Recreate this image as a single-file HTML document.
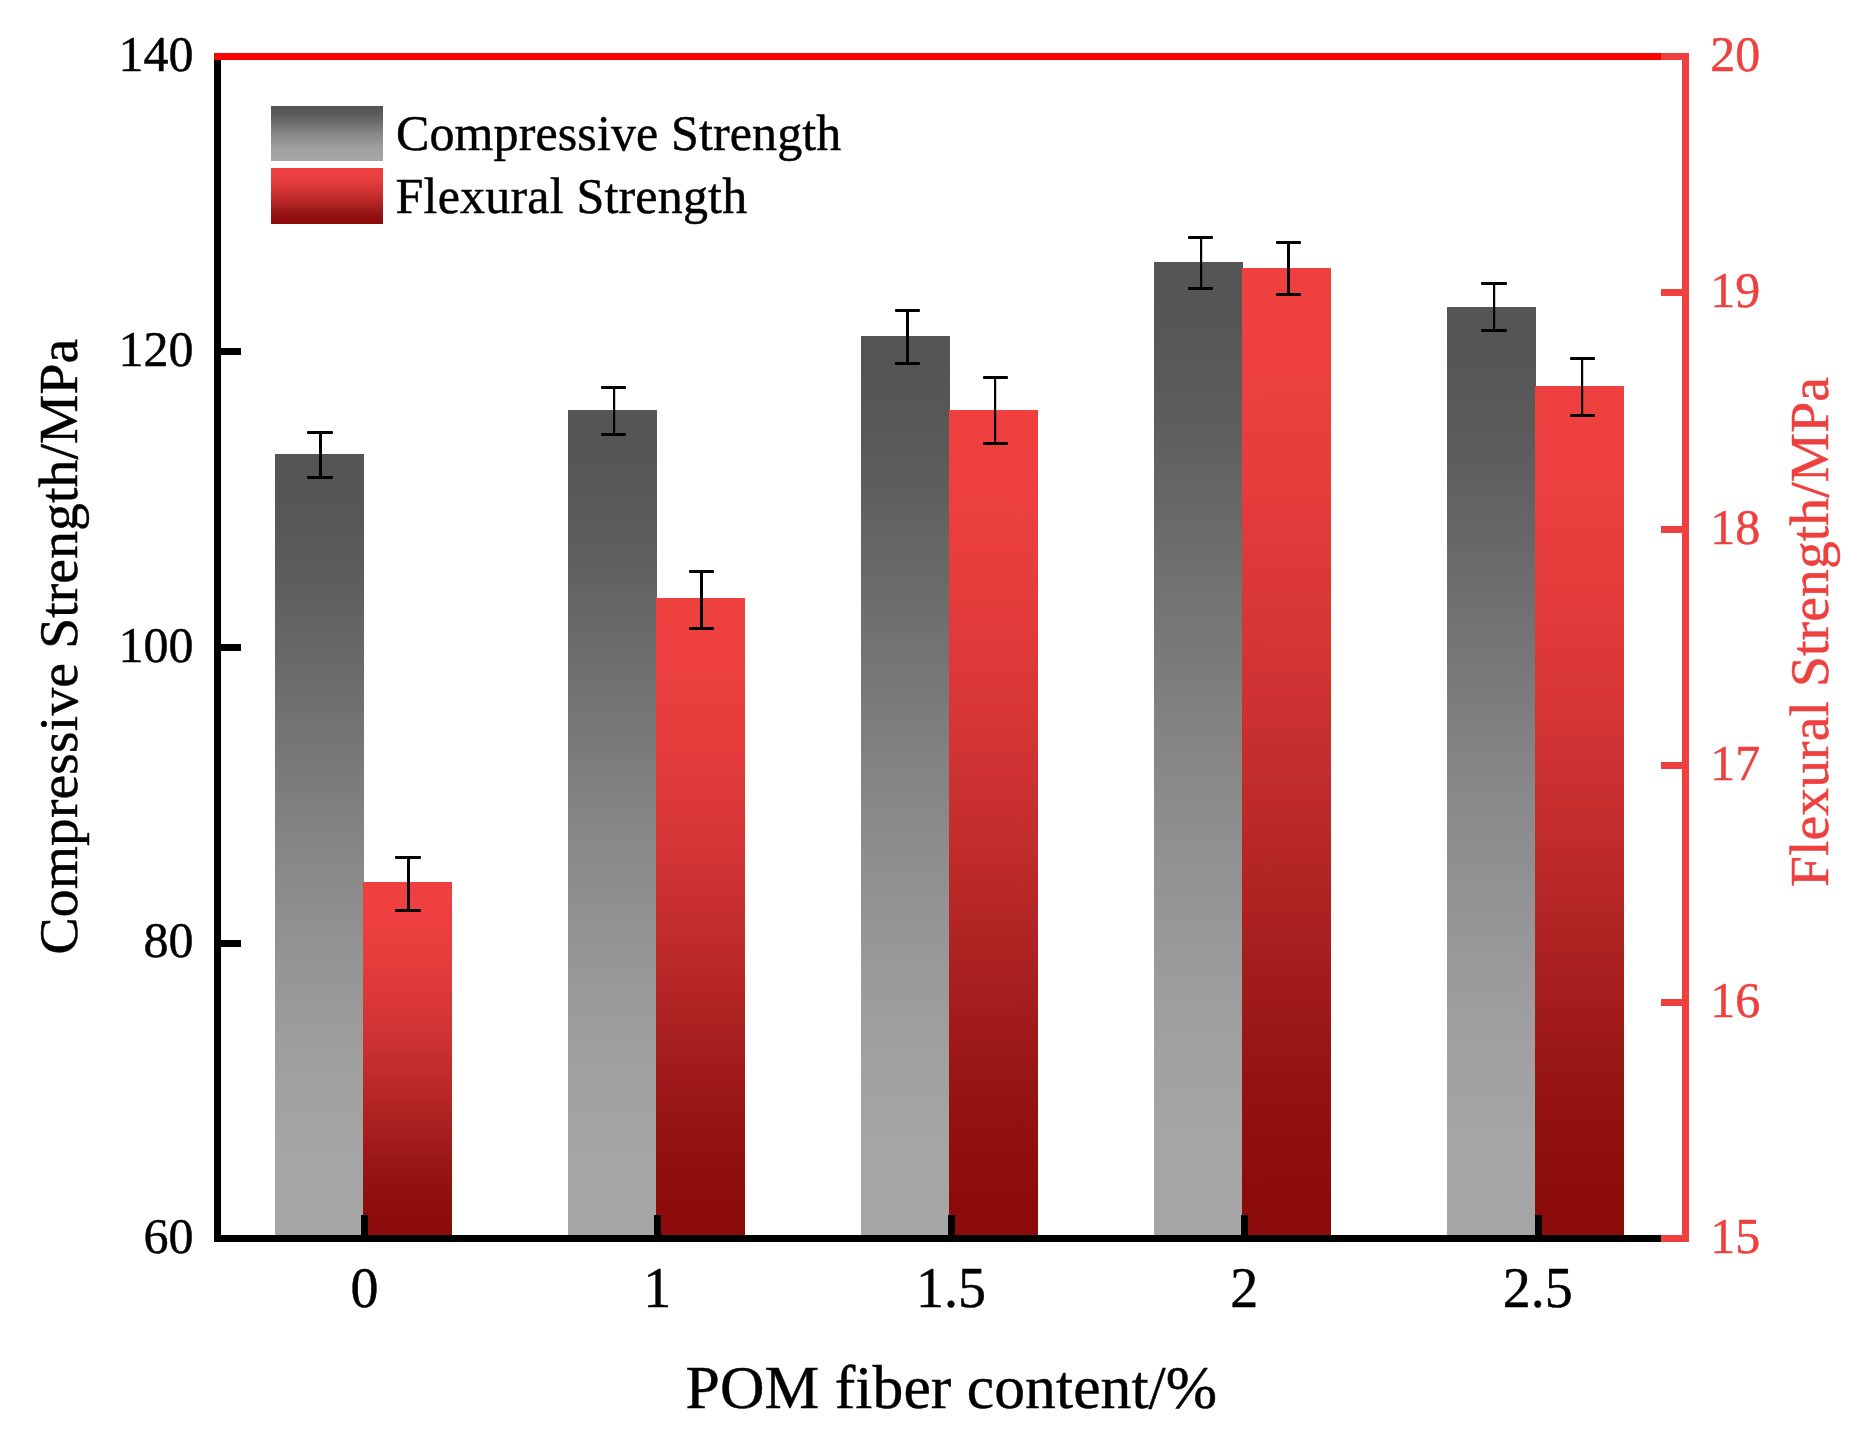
<!DOCTYPE html>
<html lang="en"><head><meta charset="utf-8"><title>POM fiber content chart</title>
<style>html,body{margin:0;padding:0;background:#fff}body{width:1875px;height:1441px;overflow:hidden}svg{display:block}text{font-family:"Liberation Serif","Times New Roman",serif;stroke-width:.45px;stroke-linejoin:round}text[fill="#000"],g[fill="#000"] text{stroke:#000}.r,.r text{stroke:#ef4040}</style></head><body>
<svg width="1875" height="1441" viewBox="0 0 1875 1441">
<defs>
<linearGradient id="gg" x1="0" y1="0" x2="0" y2="1"><stop offset="0.0000" stop-color="#555555"/><stop offset="0.0312" stop-color="#555555"/><stop offset="0.0625" stop-color="#565656"/><stop offset="0.0938" stop-color="#585858"/><stop offset="0.1250" stop-color="#5a5a5a"/><stop offset="0.1562" stop-color="#5d5d5d"/><stop offset="0.1875" stop-color="#606060"/><stop offset="0.2188" stop-color="#646464"/><stop offset="0.2500" stop-color="#676767"/><stop offset="0.2812" stop-color="#6b6b6b"/><stop offset="0.3125" stop-color="#6f6f6f"/><stop offset="0.3438" stop-color="#737373"/><stop offset="0.3750" stop-color="#767676"/><stop offset="0.4062" stop-color="#7a7a7a"/><stop offset="0.4375" stop-color="#7e7e7e"/><stop offset="0.4688" stop-color="#828282"/><stop offset="0.5000" stop-color="#858585"/><stop offset="0.5312" stop-color="#898989"/><stop offset="0.5625" stop-color="#8c8c8c"/><stop offset="0.5938" stop-color="#8f8f8f"/><stop offset="0.6250" stop-color="#929292"/><stop offset="0.6562" stop-color="#959595"/><stop offset="0.6875" stop-color="#989898"/><stop offset="0.7188" stop-color="#9a9a9a"/><stop offset="0.7500" stop-color="#9d9d9d"/><stop offset="0.7812" stop-color="#9f9f9f"/><stop offset="0.8125" stop-color="#a1a1a1"/><stop offset="0.8438" stop-color="#a2a2a2"/><stop offset="0.8750" stop-color="#a4a4a4"/><stop offset="0.9062" stop-color="#a5a5a5"/><stop offset="0.9375" stop-color="#a5a5a5"/><stop offset="0.9688" stop-color="#a6a6a6"/><stop offset="1.0000" stop-color="#a6a6a6"/></linearGradient>
<linearGradient id="rg" x1="0" y1="0" x2="0" y2="1"><stop offset="0.0000" stop-color="#ef4040"/><stop offset="0.0312" stop-color="#ef4040"/><stop offset="0.0625" stop-color="#ee4040"/><stop offset="0.0938" stop-color="#ed3f3f"/><stop offset="0.1250" stop-color="#ec3f3f"/><stop offset="0.1562" stop-color="#ea3e3e"/><stop offset="0.1875" stop-color="#e83d3d"/><stop offset="0.2188" stop-color="#e63c3c"/><stop offset="0.2500" stop-color="#e33b3b"/><stop offset="0.2812" stop-color="#e03a3a"/><stop offset="0.3125" stop-color="#dd3838"/><stop offset="0.3438" stop-color="#da3737"/><stop offset="0.3750" stop-color="#d63535"/><stop offset="0.4062" stop-color="#d23434"/><stop offset="0.4375" stop-color="#ce3232"/><stop offset="0.4688" stop-color="#ca3030"/><stop offset="0.5000" stop-color="#c52e2e"/><stop offset="0.5312" stop-color="#c12c2c"/><stop offset="0.5625" stop-color="#bc2929"/><stop offset="0.5938" stop-color="#b82727"/><stop offset="0.6250" stop-color="#b32525"/><stop offset="0.6562" stop-color="#ae2222"/><stop offset="0.6875" stop-color="#a92020"/><stop offset="0.7188" stop-color="#a51d1d"/><stop offset="0.7500" stop-color="#a01a1a"/><stop offset="0.7812" stop-color="#9c1818"/><stop offset="0.8125" stop-color="#981515"/><stop offset="0.8438" stop-color="#941212"/><stop offset="0.8750" stop-color="#911010"/><stop offset="0.9062" stop-color="#8f0e0e"/><stop offset="0.9375" stop-color="#8d0c0c"/><stop offset="0.9688" stop-color="#8b0a0a"/><stop offset="1.0000" stop-color="#8b0a0a"/></linearGradient>
</defs>
<rect width="1875" height="1441" fill="#fff"/>
<g shape-rendering="crispEdges">
<rect x="275" y="454" width="89" height="782" fill="url(#gg)"/>
<rect x="568" y="410" width="89" height="826" fill="url(#gg)"/>
<rect x="861" y="336" width="89" height="900" fill="url(#gg)"/>
<rect x="1154" y="262" width="89" height="974" fill="url(#gg)"/>
<rect x="1447" y="307" width="89" height="929" fill="url(#gg)"/>
<rect x="363" y="882" width="89" height="354" fill="url(#rg)"/>
<rect x="656" y="598" width="89" height="638" fill="url(#rg)"/>
<rect x="949" y="410" width="89" height="826" fill="url(#rg)"/>
<rect x="1242" y="268" width="89" height="968" fill="url(#rg)"/>
<rect x="1535" y="386" width="89" height="850" fill="url(#rg)"/>
<rect x="271" y="106" width="112" height="55" fill="url(#gg)"/>
<rect x="271" y="168" width="112" height="56" fill="url(#rg)"/>
<rect x="214" y="53" width="1447" height="7" fill="#ff0000"/>
<rect x="1661" y="53" width="28" height="7" fill="#ef4040"/>
<rect x="1682" y="53" width="7" height="1189" fill="#ef4040"/>
<rect x="1661" y="1235" width="28" height="7" fill="#ef4040"/>
<rect x="214" y="60" width="7" height="1182" fill="#000"/>
<rect x="214" y="1235" width="1447" height="7" fill="#000"/>
<rect x="221" y="348" width="20" height="7" fill="#000"/>
<rect x="221" y="644" width="20" height="7" fill="#000"/>
<rect x="221" y="940" width="20" height="7" fill="#000"/>
<rect x="1661" y="289" width="21" height="7" fill="#ef4040"/>
<rect x="1661" y="526" width="21" height="7" fill="#ef4040"/>
<rect x="1661" y="762" width="21" height="7" fill="#ef4040"/>
<rect x="1661" y="999" width="21" height="7" fill="#ef4040"/>
<rect x="361" y="1215" width="7" height="20" fill="#000"/>
<rect x="654" y="1215" width="7" height="20" fill="#000"/>
<rect x="948" y="1215" width="7" height="20" fill="#000"/>
<rect x="1241" y="1215" width="7" height="20" fill="#000"/>
<rect x="1535" y="1215" width="7" height="20" fill="#000"/>
</g>
<g fill="#000">
<rect x="307.0" y="431.0" width="26.0" height="3" rx="1.1"/><rect x="307.0" y="476.0" width="26.0" height="3" rx="1.1"/>
<rect x="395.0" y="856.0" width="26.0" height="3" rx="1.1"/><rect x="395.0" y="909.0" width="26.0" height="3" rx="1.1"/>
<rect x="601.0" y="386.0" width="25.0" height="3" rx="1.1"/><rect x="601.0" y="433.0" width="25.0" height="3" rx="1.1"/>
<rect x="689.0" y="570.0" width="25.0" height="3" rx="1.1"/><rect x="689.0" y="627.0" width="25.0" height="3" rx="1.1"/>
<rect x="895.0" y="309.0" width="25.0" height="3" rx="1.1"/><rect x="895.0" y="362.0" width="25.0" height="3" rx="1.1"/>
<rect x="983.0" y="376.0" width="25.0" height="3" rx="1.1"/><rect x="983.0" y="442.0" width="25.0" height="3" rx="1.1"/>
<rect x="1188.0" y="236.0" width="25.0" height="3" rx="1.1"/><rect x="1188.0" y="287.0" width="25.0" height="3" rx="1.1"/>
<rect x="1276.0" y="241.0" width="25.0" height="3" rx="1.1"/><rect x="1276.0" y="293.0" width="25.0" height="3" rx="1.1"/>
<rect x="1481.0" y="282.0" width="26.0" height="3" rx="1.1"/><rect x="1481.0" y="329.0" width="26.0" height="3" rx="1.1"/>
<rect x="1570.0" y="357.0" width="25.0" height="3" rx="1.1"/><rect x="1570.0" y="414.0" width="25.0" height="3" rx="1.1"/>
<rect x="319.0" y="432.5" width="3.0" height="45.0"/>
<rect x="407.0" y="857.5" width="3.0" height="53.0"/>
<rect x="613.0" y="387.5" width="2.2" height="47.0"/>
<rect x="700.0" y="571.5" width="3.0" height="57.0"/>
<rect x="906.0" y="310.5" width="3.0" height="53.0"/>
<rect x="994.0" y="377.5" width="2.2" height="66.0"/>
<rect x="1200.0" y="237.5" width="2.2" height="51.0"/>
<rect x="1287.0" y="242.5" width="3.0" height="52.0"/>
<rect x="1493.0" y="283.5" width="2.2" height="47.0"/>
<rect x="1581.0" y="358.5" width="2.2" height="57.0"/>
</g>
<g font-size="50" fill="#000">
<text x="193.6" y="70.7" text-anchor="end">140</text>
<text x="193.6" y="365.7" text-anchor="end">120</text>
<text x="193.6" y="661.7" text-anchor="end">100</text>
<text x="193.6" y="956.7" text-anchor="end">80</text>
<text x="193.6" y="1252.7" text-anchor="end">60</text>
<text x="395.9" y="150.3" textLength="445.4">Compressive Strength</text>
<text x="395.6" y="213" textLength="351.6">Flexural Strength</text>
</g>
<g class="r" font-size="50" fill="#ef4040">
<text x="1710.2" y="71.0">20</text>
<text x="1710.2" y="307.0">19</text>
<text x="1710.2" y="544.0">18</text>
<text x="1710.2" y="780.0">17</text>
<text x="1710.2" y="1017.0">16</text>
<text x="1710.2" y="1253.0">15</text>
</g>
<g font-size="56" fill="#000" text-anchor="middle">
<text x="364.6" y="1306.7">0</text>
<text x="657.2" y="1306.7">1</text>
<text x="951.0" y="1306.7">1.5</text>
<text x="1244.3" y="1306.7">2</text>
<text x="1537.7" y="1306.7">2.5</text>
</g>
<text x="685.6" y="1407.8" font-size="61.6" fill="#000" textLength="531.5">POM fiber content/%</text>
<text transform="translate(77 954.4) rotate(-90)" font-size="55.56" fill="#000" textLength="615.6">Compressive Strength/MPa</text>
<text transform="translate(1828.1 887.1) rotate(-90)" class="r" font-size="55.56" fill="#ef4040" textLength="510.1">Flexural Strength/MPa</text>
</svg></body></html>
